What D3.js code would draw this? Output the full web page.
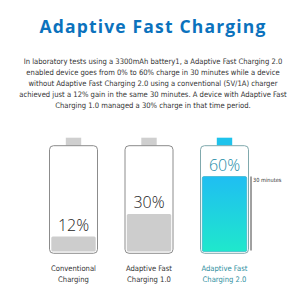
<!DOCTYPE html>
<html>
<head>
<meta charset="utf-8">
<script src="https://cdn.jsdelivr.net/npm/d3@7/dist/d3.min.js"></script>
<style>
  body { margin: 0; background: #fff; }
  svg { display: block; }
</style>
</head>
<body>
<svg id="chart" width="300" height="300"></svg>
<script>
// data
const title = 'Adaptive Fast Charging';
const paragraph = [
  'In laboratory tests using a 3300mAh battery1, a Adaptive Fast Charging 2.0',
  'enabled device goes from 0% to 60% charge in 30 minutes while a device',
  'without Adaptive Fast Charging 2.0 using a conventional (5V/1A) charger',
  'achieved just a 12% gain in the same 30 minutes. A device with Adaptive Fast',
  'Charging 1.0 managed a 30% charge in that time period.'
];
const categories = ['conventional', 'afc1', 'afc2'];
const labels = [['Conventional', 'Charging'], ['Adaptive Fast', 'Charging 1.0'], ['Adaptive Fast', 'Charging 2.0']];
const values = [12, 30, 60];
const timeNote = '30 minutes';

const svg = d3.select('#chart');
const cx = 153;

// title - widen with letter spacing to about 226px
const titleText = svg.append('text')
  .attr('x', cx).attr('y', 33)
  .attr('text-anchor', 'middle')
  .style('font-family', '"Open Sans", sans-serif')
  .style('font-weight', 700)
  .style('font-size', '17.5px')
  .attr('fill', '#0b72bd')
  .text(title);
const tw = titleText.node().getComputedTextLength();
titleText.style('letter-spacing', Math.max(0, (226 - tw) / (title.length - 1)).toFixed(2) + 'px');

// paragraph - size it so the widest line is about 268px
const para = svg.append('g')
  .style('font-family', '"Liberation Sans Narrow", "DejaVu Sans Condensed", sans-serif')
  .style('font-size', '9px')
  .attr('fill', '#333');
para.selectAll('text')
  .data(paragraph)
  .enter().append('text')
    .attr('x', cx)
    .attr('y', function(d, i){ return 64 + i * 10.9 })
    .attr('text-anchor', 'middle')
    .text(function(d){ return d });
let widest = 0;
para.selectAll('text').each(function(){ widest = Math.max(widest, this.getComputedTextLength()) });
para.style('font-size', (9 * 268 / widest).toFixed(2) + 'px');

// scales
const x = d3.scalePoint().domain(categories).range([73.5, 224.5]);
const y = d3.scaleLinear().domain([0, 100]).range([251.5, 126.5]);
const bw = 48, bodyTop = 145.7, bodyBottom = 253.3;

const defs = svg.append('defs');
const grad = defs.append('linearGradient')
  .attr('id', 'fastGrad').attr('x1', 0).attr('y1', 0).attr('x2', 0).attr('y2', 1);
grad.append('stop').attr('offset', '0%').attr('stop-color', '#1fbef2');
grad.append('stop').attr('offset', '100%').attr('stop-color', '#1fe8cc');

const batt = svg.append('g').selectAll('g')
  .data(categories)
  .enter().append('g')
    .attr('transform', function(d){ return 'translate(' + x(d) + ',0)' });

// cap
batt.append('rect')
  .attr('x', -7.7).attr('y', bodyTop - 8).attr('width', 15.4).attr('height', 8)
  .attr('fill', function(d, i){ return i === 2 ? '#1ec3ec' : '#cfcfcf' });

// body
batt.append('rect')
  .attr('x', -bw / 2).attr('y', bodyTop).attr('width', bw).attr('height', bodyBottom - bodyTop)
  .attr('rx', 4)
  .attr('fill', '#fff')
  .attr('stroke', function(d, i){ return i === 2 ? '#80a9ad' : '#8c8c8c' })
  .attr('stroke-width', 1);

// fill level
batt.append('rect')
  .attr('x', -bw / 2 + 1.8)
  .attr('y', function(d, i){ return y(values[i]) })
  .attr('width', bw - 3.6)
  .attr('height', function(d, i){ return y(0) - y(values[i]) })
  .attr('rx', 1.5)
  .attr('fill', function(d, i){ return i === 2 ? 'url(#fastGrad)' : '#cdcdcd' })
  .attr('stroke', function(d, i){ return i === 2 ? '#2aa9c2' : 'none' })
  .attr('stroke-width', 0.6);

// percent text
batt.append('text')
  .attr('y', function(d, i){ return y(values[i]) - 6 })
  .attr('text-anchor', 'middle')
  .style('font-family', '"Open Sans", sans-serif')
  .style('font-weight', 300)
  .style('font-size', '16px')
  .attr('fill', function(d, i){ return i === 2 ? '#1a8aa6' : '#222' })
  .text(function(d, i){ return values[i] + '%' });

// labels underneath
batt.append('text')
  .attr('text-anchor', 'middle')
  .style('font-family', '"Liberation Sans Narrow", "DejaVu Sans Condensed", sans-serif')
  .style('font-size', '7.6px')
  .attr('fill', function(d, i){ return i === 2 ? '#2f8fa0' : '#333' })
  .selectAll('tspan')
  .data(function(d, i){ return labels[i] })
  .enter().append('tspan')
    .attr('x', 0)
    .attr('y', function(d, j){ return 271 + j * 10.5 })
    .text(function(d){ return d });

// 30 minutes marker
const mx = x('afc2') + bw / 2 + 2.5;
svg.append('line')
  .attr('x1', mx).attr('x2', mx)
  .attr('y1', y(values[2])).attr('y2', y(0) - 1)
  .attr('stroke', '#111').attr('stroke-width', 0.8);
svg.append('text')
  .attr('x', mx + 2).attr('y', y(values[2]) + 5)
  .style('font-family', '"Liberation Sans Narrow", "DejaVu Sans Condensed", sans-serif')
  .style('font-size', '5.6px')
  .attr('fill', '#333')
  .text(timeNote);
</script>
</body>
</html>
